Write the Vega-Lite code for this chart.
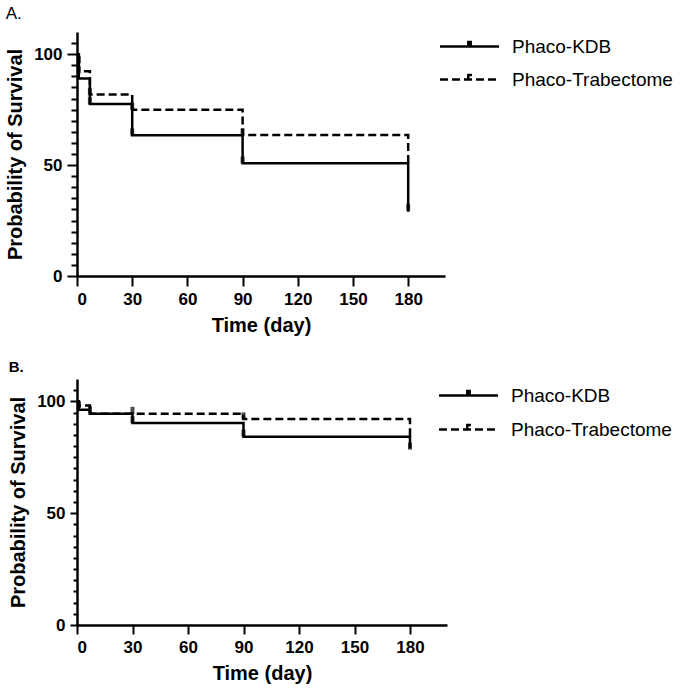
{
  "$schema": "https://vega.github.io/schema/vega-lite/v6.json",
  "padding": {"left": 5, "top": 5, "right": 5, "bottom": 5},
  "datasets": {
    "A_km": [
      {"time": 0, "surv": 100, "group": "Phaco-KDB"},
      {"time": 1, "surv": 89, "group": "Phaco-KDB"},
      {"time": 7, "surv": 77.5, "group": "Phaco-KDB"},
      {"time": 30, "surv": 63.5, "group": "Phaco-KDB"},
      {"time": 90, "surv": 50.8, "group": "Phaco-KDB"},
      {"time": 180, "surv": 29, "group": "Phaco-KDB"},
      {"time": 0, "surv": 100, "group": "Phaco-Trabectome"},
      {"time": 1, "surv": 92.3, "group": "Phaco-Trabectome"},
      {"time": 7, "surv": 81.8, "group": "Phaco-Trabectome"},
      {"time": 30, "surv": 74.9, "group": "Phaco-Trabectome"},
      {"time": 90, "surv": 63.6, "group": "Phaco-Trabectome"},
      {"time": 180, "surv": 50.8, "group": "Phaco-Trabectome"}
    ],
    "A_cens": [
      {"time": 1, "surv": 97.5, "group": "Phaco-KDB"},
      {"time": 1, "surv": 93, "group": "Phaco-KDB"},
      {"time": 7, "surv": 79, "group": "Phaco-KDB"},
      {"time": 30, "surv": 65, "group": "Phaco-KDB"},
      {"time": 90, "surv": 52.3, "group": "Phaco-KDB"},
      {"time": 180, "surv": 31, "group": "Phaco-KDB"},
      {"time": 7, "surv": 83.3, "group": "Phaco-Trabectome"},
      {"time": 30, "surv": 76.5, "group": "Phaco-Trabectome"},
      {"time": 90, "surv": 65, "group": "Phaco-Trabectome"}
    ],
    "B_km": [
      {"time": 0, "surv": 100, "group": "Phaco-KDB"},
      {"time": 1, "surv": 96.3, "group": "Phaco-KDB"},
      {"time": 7, "surv": 94.5, "group": "Phaco-KDB"},
      {"time": 30, "surv": 90.3, "group": "Phaco-KDB"},
      {"time": 90, "surv": 84.2, "group": "Phaco-KDB"},
      {"time": 180, "surv": 79, "group": "Phaco-KDB"},
      {"time": 0, "surv": 100, "group": "Phaco-Trabectome"},
      {"time": 1, "surv": 98.2, "group": "Phaco-Trabectome"},
      {"time": 7, "surv": 94.5, "group": "Phaco-Trabectome"},
      {"time": 90, "surv": 92.1, "group": "Phaco-Trabectome"},
      {"time": 180, "surv": 84.3, "group": "Phaco-Trabectome"}
    ],
    "B_cens": [
      {"time": 1, "surv": 98.5, "group": "Phaco-KDB"},
      {"time": 30, "surv": 91.8, "group": "Phaco-KDB"},
      {"time": 90, "surv": 85.8, "group": "Phaco-KDB"},
      {"time": 180, "surv": 80, "group": "Phaco-KDB"},
      {"time": 7, "surv": 96.3, "group": "Phaco-Trabectome"},
      {"time": 30, "surv": 96, "group": "Phaco-Trabectome"},
      {"time": 90, "surv": 93.5, "group": "Phaco-Trabectome"}
    ]
  },
  "vconcat": [
    {
      "title": {"text": "A.", "anchor": "start", "frame": "bounds", "fontSize": 17, "fontWeight": "normal", "offset": 9},
      "width": 368,
      "height": 244,
      "layer": [
        {
          "data": {"name": "A_km"},
          "mark": {"type": "line", "interpolate": "step-after", "strokeWidth": 2.5, "color": "black"},
          "encoding": {
            "x": {"field": "time", "type": "quantitative", "scale": {"domain": [0, 200]},
              "axis": {"title": "Time (day)", "values": [0, 30, 60, 90, 120, 150, 180], "ticks": true, "tickSize": 10}},
            "y": {"field": "surv", "type": "quantitative", "scale": {"domain": [0, 110]},
              "axis": {"title": "Probability of Survival", "values": [0, 50, 100], "ticks": true, "tickSize": 10, "labelOverlap": false}},
            "strokeDash": {"field": "group", "type": "nominal",
              "scale": {"domain": ["Phaco-KDB", "Phaco-Trabectome"], "range": [[1, 0], [8, 4]]},
              "legend": {"orient": "none", "legendX": 381, "legendY": 3}}
          }
        },
        {
          "data": {"name": "A_cens"},
          "mark": {"type": "tick", "orient": "vertical", "thickness": 4, "size": 7, "color": "black"},
          "encoding": {
            "x": {"field": "time", "type": "quantitative"},
            "y": {"field": "surv", "type": "quantitative",
              "axis": {"title": null, "values": [5, 10, 15, 20, 25, 30, 35, 40, 45, 55, 60, 65, 70, 75, 80, 85, 90, 95, 105], "labels": false, "domain": false, "ticks": true, "tickSize": 6, "orient": "left"}}
          }
        }
      ],
      "resolve": {"axis": {"y": "independent"}}
    },
    {
      "title": {"text": "B.", "anchor": "start", "frame": "bounds", "fontSize": 15, "fontWeight": "bold", "offset": 4},
      "width": 370,
      "height": 246,
      "layer": [
        {
          "data": {"name": "B_km"},
          "mark": {"type": "line", "interpolate": "step-after", "strokeWidth": 2.5, "color": "black"},
          "encoding": {
            "x": {"field": "time", "type": "quantitative", "scale": {"domain": [0, 200]},
              "axis": {"title": "Time (day)", "values": [0, 30, 60, 90, 120, 150, 180], "ticks": true, "tickSize": 9}},
            "y": {"field": "surv", "type": "quantitative", "scale": {"domain": [0, 110]},
              "axis": {"title": "Probability of Survival", "values": [0, 50, 100], "ticks": true, "tickSize": 7, "labelOverlap": false}},
            "strokeDash": {"field": "group", "type": "nominal",
              "scale": {"domain": ["Phaco-KDB", "Phaco-Trabectome"], "range": [[1, 0], [8, 4]]},
              "legend": {"orient": "none", "legendX": 380, "legendY": 5, "rowPadding": 12}}
          }
        },
        {
          "data": {"name": "B_cens"},
          "mark": {"type": "tick", "orient": "vertical", "thickness": 4, "size": 7, "color": "black"},
          "encoding": {
            "x": {"field": "time", "type": "quantitative"},
            "y": {"field": "surv", "type": "quantitative",
              "axis": {"title": null, "values": [5, 10, 15, 20, 25, 30, 35, 40, 45, 55, 60, 65, 70, 75, 80, 85, 90, 95, 105], "labels": false, "domain": false, "ticks": true, "tickSize": 4, "orient": "left"}}
          }
        }
      ],
      "resolve": {"axis": {"y": "independent"}}
    }
  ],
  "resolve": {"scale": {"strokeDash": "independent"}, "legend": {"strokeDash": "independent"}},
  "spacing": 25,
  "config": {
    "font": "Liberation Sans",
    "view": {"stroke": null},
    "axis": {
      "grid": false,
      "ticks": true,
      "domainColor": "black",
      "domainWidth": 2.5,
      "tickColor": "black",
      "tickWidth": 2,
      "labelColor": "black",
      "labelFont": "Liberation Sans",
      "labelFontSize": 17,
      "labelFontWeight": "bold",
      "labelPadding": 5,
      "labelAngle": 0,
      "titleColor": "black",
      "titleFont": "Liberation Sans",
      "titleFontSize": 20,
      "titleFontWeight": "bold",
      "titlePadding": 8
    },
    "legend": {
      "title": null,
      "padding": 0,
      "symbolType": "M-3,0H3M-0.12,0V-0.45H0.12V0",
      "symbolSize": 387,
      "symbolStrokeWidth": 2.5,
      "symbolStrokeColor": "black",
      "symbolFillColor": "transparent",
      "labelFont": "Liberation Sans",
      "labelFontSize": 19,
      "labelColor": "black",
      "labelLimit": 300,
      "labelOffset": 31,
      "rowPadding": 11
    },
    "title": {"color": "black", "font": "Liberation Sans"}
  }
}
